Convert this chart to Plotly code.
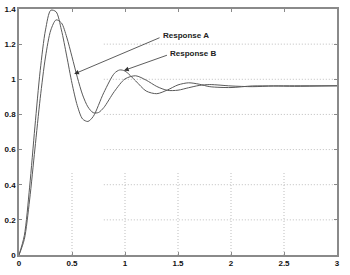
import plotly.graph_objects as go

# Time samples (s)
t_a = [0, 0.05, 0.10, 0.15, 0.20, 0.25, 0.30, 0.35, 0.40, 0.45, 0.50, 0.55, 0.60, 0.65,
       0.70, 0.80, 0.90, 0.95, 1.00, 1.10, 1.20, 1.30, 1.40, 1.50, 1.60, 1.70, 1.80,
       2.00, 2.20, 2.40, 2.60, 3.00]
resp_a = [0, 0.11, 0.386, 0.729, 1.05, 1.281, 1.393, 1.384, 1.281, 1.133, 0.977, 0.85,
          0.774, 0.76, 0.788, 0.924, 1.034, 1.053, 1.047, 0.991, 0.933, 0.918, 0.939,
          0.968, 0.98, 0.972, 0.958, 0.953, 0.962, 0.962, 0.96, 0.963]

t_b = [0, 0.05, 0.10, 0.15, 0.20, 0.25, 0.30, 0.35, 0.40, 0.45, 0.50, 0.55, 0.60, 0.65,
       0.70, 0.75, 0.80, 0.90, 1.00, 1.10, 1.20, 1.30, 1.40, 1.50, 1.60, 1.70, 1.80,
       2.00, 2.20, 2.40, 2.60, 3.00]
resp_b = [0, 0.089, 0.313, 0.603, 0.891, 1.127, 1.28, 1.338, 1.321, 1.24, 1.128, 1.012,
          0.911, 0.843, 0.81, 0.811, 0.839, 0.931, 1.002, 1.02, 0.995, 0.959, 0.937,
          0.938, 0.952, 0.965, 0.97, 0.962, 0.958, 0.962, 0.963, 0.963]

x_ticks = [0, 0.5, 1, 1.5, 2, 2.5, 3]
y_ticks = [0, 0.2, 0.4, 0.6, 0.8, 1, 1.2, 1.4]
x_tick_labels = ["0", "0.5", "1", "1.5", "2", "2.5", "3"]
y_tick_labels = ["0", "0.2", "0.4", "0.6", "0.8", "1", "1.2", "1.4"]

# partial grid (as in the reference)
h_grid_y = [0.2, 0.4, 0.6, 0.8, 1.0, 1.2]
h_grid_x_start = 0.8
v_grid_x = [0.5, 1.0, 1.5, 2.0, 2.5]
v_grid_top = 0.47

curve_color = "#5a5a5a"
grid_color = "#bdbdbd"
font_fam = "Liberation Sans, Arial, sans-serif"

fig = go.Figure()

for gy in h_grid_y:
    fig.add_trace(go.Scatter(x=[h_grid_x_start, 3], y=[gy, gy], mode="lines",
                             line=dict(color=grid_color, width=1, dash="1px,2px"),
                             hoverinfo="skip", showlegend=False))
for gx in v_grid_x:
    fig.add_trace(go.Scatter(x=[gx, gx], y=[0, v_grid_top], mode="lines",
                             line=dict(color=grid_color, width=1, dash="1px,2px"),
                             hoverinfo="skip", showlegend=False))

fig.add_trace(go.Scatter(x=t_a, y=resp_a, mode="lines", name="Response A",
                         line=dict(color=curve_color, width=1, shape="spline", smoothing=0.8),
                         showlegend=False))
fig.add_trace(go.Scatter(x=t_b, y=resp_b, mode="lines", name="Response B",
                         line=dict(color=curve_color, width=1, shape="spline", smoothing=0.8),
                         showlegend=False))

# annotations with arrows
fig.add_annotation(x=0.52, y=1.03, ax=1.34, ay=1.24, xref="x", yref="y",
                   axref="x", ayref="y", text="", showarrow=True,
                   arrowhead=2, arrowsize=1.2, arrowwidth=0.8, arrowcolor="#333")
fig.add_annotation(x=1.34, y=1.25, text="Response A", showarrow=False,
                   xanchor="left", yanchor="middle",
                   font=dict(family=font_fam, size=8, color="#222", weight="bold"))
fig.add_annotation(x=0.99, y=1.05, ax=1.41, ay=1.14, xref="x", yref="y",
                   axref="x", ayref="y", text="", showarrow=True,
                   arrowhead=2, arrowsize=1.2, arrowwidth=0.8, arrowcolor="#333")
fig.add_annotation(x=1.41, y=1.145, text="Response B", showarrow=False,
                   xanchor="left", yanchor="middle",
                   font=dict(family=font_fam, size=8, color="#222", weight="bold"))

axis_common = dict(showline=True, linecolor="#8a8a8a", linewidth=1.5, mirror="ticks",
                   ticks="inside", ticklen=3, tickcolor="#8a8a8a", showgrid=False,
                   zeroline=False,
                   tickfont=dict(family=font_fam, size=8, color="#111", weight="bold"))

fig.update_layout(
    width=350, height=275,
    margin=dict(l=17, r=13, t=5, b=20),
    paper_bgcolor="white", plot_bgcolor="white",
    xaxis=dict(range=[0, 3], tickvals=x_ticks, ticktext=x_tick_labels, **axis_common),
    yaxis=dict(range=[0, 1.4], tickvals=y_ticks, ticktext=y_tick_labels, **axis_common),
)

fig.write_html("out.html")
